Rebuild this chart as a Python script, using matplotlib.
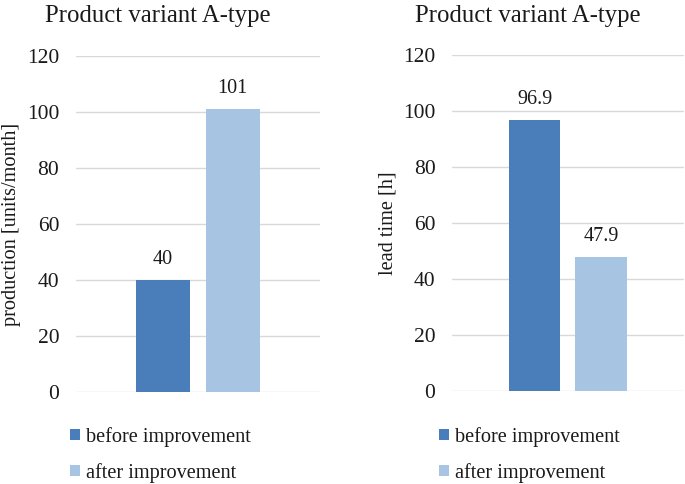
import matplotlib
matplotlib.use("Agg")
import matplotlib.pyplot as plt

plt.rcParams['font.family'] = ['Liberation Serif', 'DejaVu Serif']

series = ["before improvement", "after improvement"]
production = [40, 101]
lead_time = [96.9, 47.9]
value_labels_prod = ["40", "101"]
value_labels_lead = ["96.9", "47.9"]
title = "Product variant A-type"
ylabels = ["production [units/month]", "lead time [h]"]
yticks = [0, 20, 40, 60, 80, 100, 120]

colors = ["#4A7EBB", "#A7C4E3"]
text_col = "#1a1a1a"

fig = plt.figure(figsize=(6.85, 4.84), dpi=100)

# axes rects in figure fractions (left, bottom, width, height)
rects = [[0.111, 0.190, 0.356, 0.694], [0.660, 0.192, 0.338, 0.694]]
title_x = [158 / 685, 528 / 685]
label_x = [-0.225, -0.236]
legend_x = [70 / 685, 439 / 685]
datas = [production, lead_time]
vlabels = [value_labels_prod, value_labels_lead]

for i in range(2):
    ax = fig.add_axes(rects[i])
    offs = [-0.143, 0.143]
    bars = []
    for j in range(2):
        b = ax.bar(offs[j], datas[i][j], width=0.222, color=colors[j], label=series[j], zorder=3)
        ax.bar_label(b, labels=[vlabels[i][j]], padding=8, fontsize=14.5, color=text_col)
        bars.append(b)
    ax.set_xlim(-0.5, 0.5)
    ax.set_ylim(0, 120)
    ax.set_yticks(yticks)
    ax.set_xticks([])
    ax.grid(axis='y', color='#D9D9D9', linewidth=1.0, zorder=0)
    for s in ax.spines.values():
        s.set_visible(False)
    ax.tick_params(axis='y', length=0, pad=12, labelsize=15.5, labelcolor=text_col)
    ax.set_ylabel(ylabels[i], fontsize=14.6, color=text_col)
    ax.yaxis.set_label_coords(label_x[i], 0.5)

    fig.text(title_x[i], 0.966, title, ha='center', va='center', fontsize=17.8, color=text_col)

    fig.legend(handles=bars, labels=series, loc='upper left',
               bbox_to_anchor=(legend_x[i], 1 - 427 / 484), frameon=False,
               fontsize=14.6, handlelength=0.5, handleheight=0.5, handletextpad=0.3,
               labelspacing=0.78, borderaxespad=0, borderpad=0, labelcolor=text_col)

fig.savefig("out.png", dpi=100)
